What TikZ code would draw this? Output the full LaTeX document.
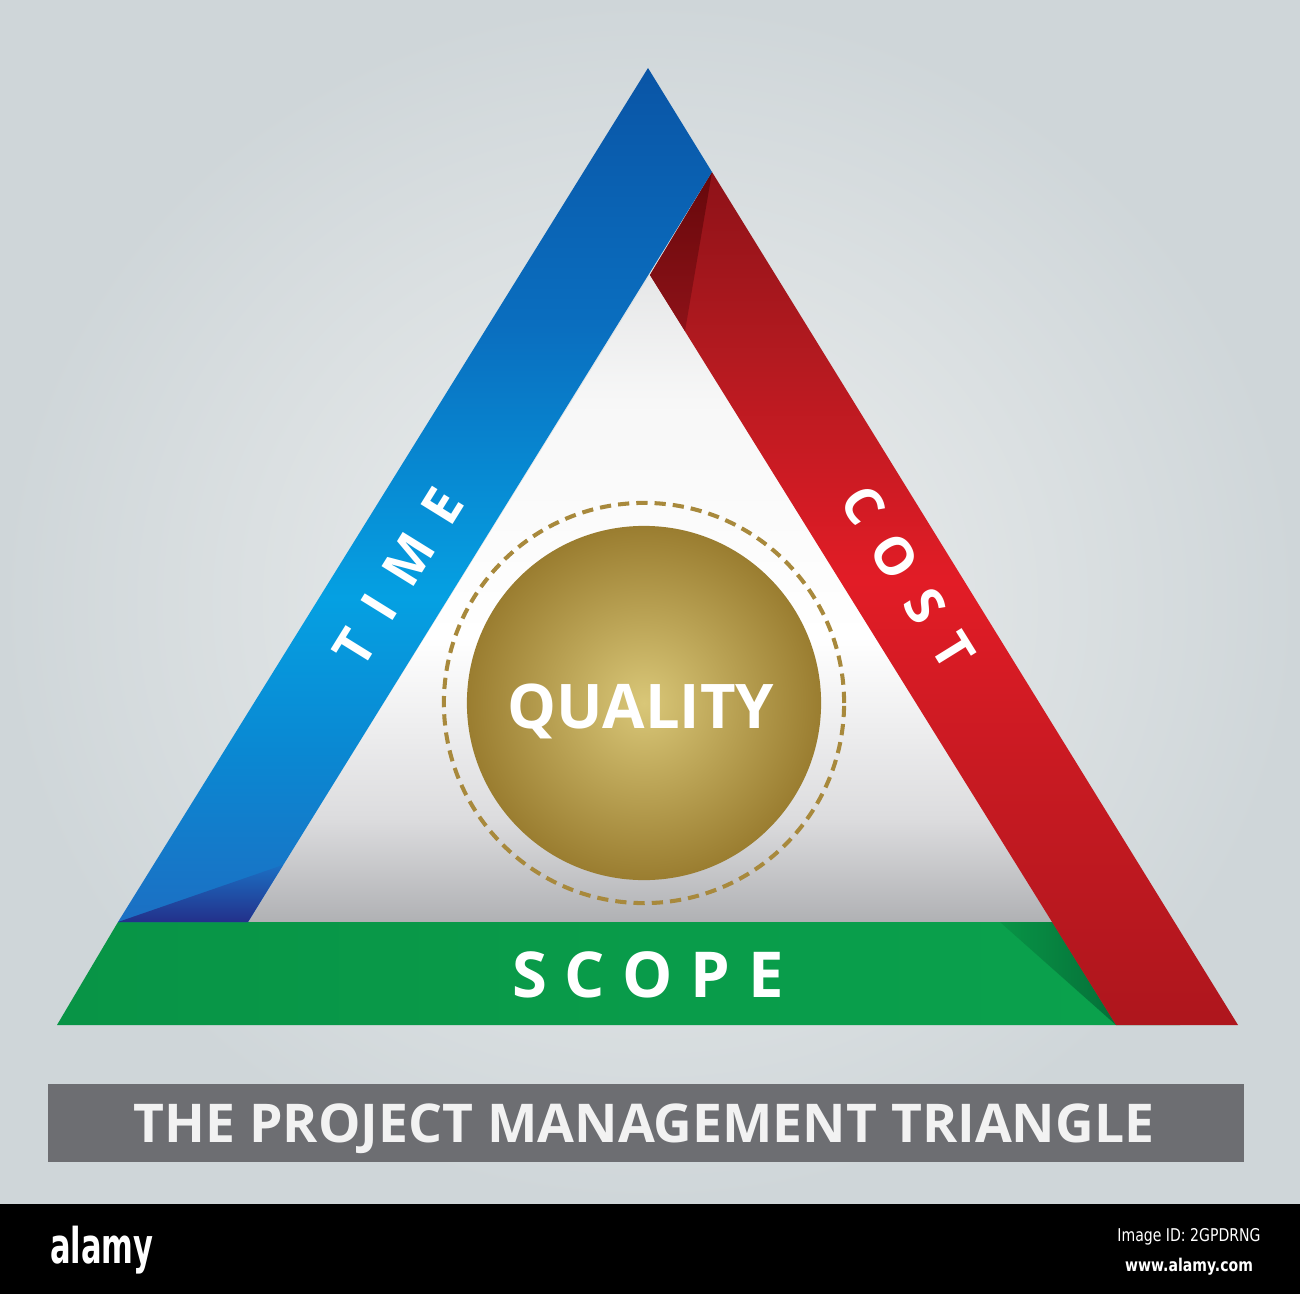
\documentclass[tikz,border=0pt]{standalone}
\usepackage{fontspec}
\setmainfont{Open Sans}
\newfontfamily\logofont{DejaVu Sans}
\usetikzlibrary{positioning}

\definecolor{bgedge}{HTML}{CFD6D9}
\definecolor{bgmid}{HTML}{EEF0F0}
\definecolor{bluedark}{HTML}{0A55A6}
\definecolor{bluemid}{HTML}{0A88D2}
\definecolor{bluelight}{HTML}{05A0E2}
\definecolor{blueupper}{HTML}{0A6EBF}
\definecolor{bluelow}{HTML}{1C6FC3}
\definecolor{bluenavy}{HTML}{23308A}
\definecolor{reddark}{HTML}{8E1218}
\definecolor{redupper}{HTML}{B41A20}
\definecolor{redlight}{HTML}{E21C26}
\definecolor{redmid}{HTML}{C81A22}
\definecolor{redlow}{HTML}{AE161D}
\definecolor{redshade}{HTML}{66080B}
\definecolor{greenbase}{HTML}{089446}
\definecolor{greenlight}{HTML}{0AA24D}
\definecolor{greenshade}{HTML}{056F38}
\definecolor{goldin}{HTML}{D9C778}
\definecolor{goldout}{HTML}{9A7D30}
\definecolor{goldline}{HTML}{A8893C}
\definecolor{barfill}{HTML}{6D6E72}
\definecolor{bartext}{HTML}{F2F2F2}
\definecolor{innerlow}{HTML}{B0B1B4}
\definecolor{innerside}{HTML}{DCDCDE}
\definecolor{innertop}{HTML}{E6E7E8}

% shadings along the bands (0bp = bottom)
\pgfdeclareverticalshading{innerfade}{100bp}{color(0bp)=(innerlow); color(25bp)=(innerlow);
	color(33bp)=(innerside); color(47bp)=(white); color(65bp)=(white!97!black); color(75bp)=(innertop); color(100bp)=(innertop)}
\pgfdeclareverticalshading{timefade}{100bp}{color(0bp)=(bluelow); color(25bp)=(bluelow);
	color(35bp)=(bluemid); color(44bp)=(bluelight); color(60bp)=(blueupper); color(75bp)=(bluedark); color(100bp)=(bluedark)}
\pgfdeclareverticalshading{costfade}{100bp}{color(0bp)=(redlow); color(25bp)=(redlow);
	color(40bp)=(redmid); color(51bp)=(redlight); color(64bp)=(redupper); color(75bp)=(reddark); color(100bp)=(reddark)}

\newcommand{\lgap}{\kern6.5pt}
\newcommand{\sgap}{\kern5pt}

\begin{document}
\begin{tikzpicture}[x=0.01cm,y=-0.01cm,
		bandtext/.style={text=white,inner sep=0pt,text depth=0pt,
			font=\bfseries\fontsize{15}{15}\selectfont},
		bigtext/.style={text=white,inner sep=0pt,text depth=0pt,
			font=\bfseries\fontsize{18}{18}\selectfont},
		titletext/.style={text=bartext,inner sep=0pt,text depth=0pt,
			font=\bfseries\fontsize{15.2}{15.2}\selectfont},
		footertext/.style={text=white,inner sep=0pt,xscale=0.8,
			font=\logofont\fontsize{5}{5}\selectfont}
		]
	
	% background and footer
	\shade[inner color=bgmid, outer color=bgedge] (0,0) rectangle (1300,1204);
	\fill[black] (0,1204) rectangle (1300,1294);
	\useasboundingbox (0,0) rectangle (1300,1294);
	
	% the triangle bands
	\coordinate (apex) at (648,68);
	\coordinate (fold) at (712,172);
	\coordinate (inapex) at (650,275);
	\shade[shading=innerfade]
		(inapex) -- (1052,922) -- (248,922) -- cycle;
	\shade[left color=greenbase, right color=greenlight]
		(57,1025) -- (118,922) -- (1120,922) -- (1180,1025) -- cycle;
	\shade[left color=greenbase, right color=greenshade]
		(1000,922) -- (1052,922) -- (1116,1025) -- cycle;
	\shade[shading=costfade]
		(fold) -- (1238,1025) -- (1116,1025) -- (inapex) -- cycle;
	\shade[top color=redshade, bottom color=reddark]
		(fold) -- (inapex) -- (685,331) -- cycle;
	\shade[shading=timefade]
		(apex) -- (fold) -- (248,922) -- (118,922) -- cycle;
	\shade[top color=bluelow, bottom color=bluenavy]
		(118,922) -- (248,922) -- (283,865) -- cycle;
	
	% quality disc
	\coordinate (qc) at (644,703);
	\shade[inner color=goldin, outer color=goldout] (qc) circle (1.77cm);
	\draw[goldline, line width=1.15pt, dash pattern=on 3.2pt off 2pt] (qc) circle (2cm);
	\node[bigtext, font=\bfseries\fontsize{17.5}{17.5}\selectfont] (quality) at (641,706) {QUALITY};
	
	\node[bandtext, rotate=58.2] (time) at (398,577) {T\lgap I\lgap M\lgap E};
	\node[bandtext, rotate=-58.2] (cost) at (908,577) {C\lgap O\lgap S\lgap T};
	\node[bigtext] (scope) at (648,975) {S\sgap C\sgap O\sgap P\sgap E};
	
	% title bar
	\fill[barfill] (48,1084) rectangle (1244,1162);
	\node[titletext] (title) at (644,1123) {THE PROJECT MANAGEMENT TRIANGLE};
	
	% footer
	\node[text=white, inner sep=0pt, xscale=0.62,
		font=\logofont\bfseries\fontsize{14}{14}\selectfont] (logo) at (102,1250) {alamy};
	\node[footertext] (imageid) at (1189,1237) {Image ID: 2GPDRNG};
	\node[footertext, font=\logofont\bfseries\fontsize{5}{5}\selectfont, below=3.2pt of imageid.south, anchor=north] (website) {www.alamy.com};
\end{tikzpicture}
\end{document}
